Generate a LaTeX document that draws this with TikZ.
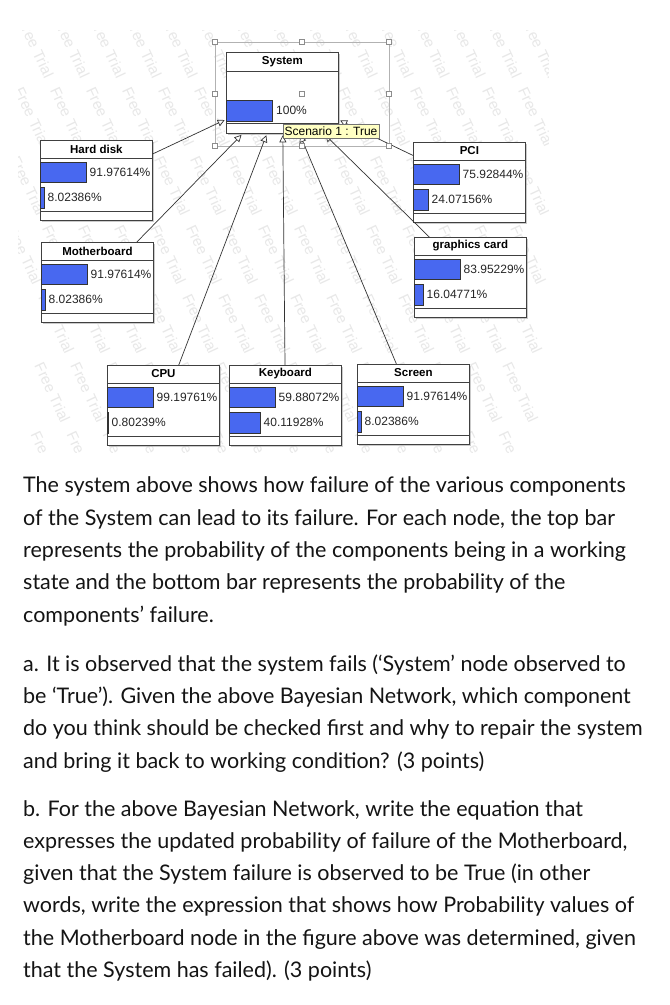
\documentclass[tikz,border=0pt]{standalone}
\usepackage{fontspec}
\setmainfont{Lato}
\newfontfamily\bnfont{Liberation Sans}
\usetikzlibrary{positioning,calc,arrows.meta,shadows}

\definecolor{barblue}{RGB}{72,104,240}
\definecolor{tipyellow}{RGB}{255,255,195}

\begin{document}
\begin{tikzpicture}[
    x=1pt, y=-1pt,
    bnbox/.style={rectangle, draw=black!75, fill=white, line width=0.8pt, minimum width=112pt, minimum height=80pt, inner sep=0pt, drop shadow={shadow xshift=1.2pt, shadow yshift=-1.2pt, fill=black!40}},
    bntitle/.style={inner sep=0pt, font=\bnfont\bfseries\fontsize{11.5}{12}\selectfont},
    pct/.style={anchor=west, inner sep=0pt, font=\bnfont\fontsize{12}{12}\selectfont, text=black!85},
    bar/.style={draw=black!80, fill=barblue, line width=0.7pt},
    sep/.style={draw=black!75, line width=0.7pt},
    arrow/.style={-{Triangle[open, length=7pt, width=7pt]}, draw=black!80, line width=0.7pt, shorten >=1.5pt},
    handle/.style={draw=black!45, fill=white, line width=0.5pt},
    wmark/.style={text=black!9, font=\bnfont\fontsize{15}{15}\selectfont, rotate=-65, inner sep=0pt},
    body/.style={anchor=base west, inner sep=0pt, align=left, font=\fontsize{21.5}{32.3}\selectfont, text=black!92}
]
\fill[white] (0,0) rectangle (670,1005);
\useasboundingbox (0,0) rectangle (670,1005);

% trial watermark behind the network
\begin{scope}
  \clip (18,30) rectangle (548,452);
  \foreach \c in {-6,...,15}
    \foreach \r in {0,...,6} {
      \pgfmathsetmacro\wx{\c*36+\r*32.1}
      \pgfmathsetmacro\wy{48+\r*68.9}
      \ifdim\wx pt>24pt \ifdim\wx pt<542pt
        \node[wmark] (wm\c-\r) at (\wx,\wy) {Free Trial};
      \fi\fi
    }
\end{scope}

% selection frame round the observed node
\draw[black!30, line width=0.5pt] (215,42) rectangle (389,146);

% observed node
\node[bnbox, minimum height=81pt, anchor=north west] (sys) at (226,52) {};
\node[bntitle] (sys-t) at ($(sys.north)+(0,9.5)$) {System};
\draw[sep] ($(sys.north west)+(0,19)$) -- ($(sys.north east)+(0,19)$);
\draw[sep] ($(sys.south west)+(0,-10)$) -- ($(sys.south east)+(0,-10)$);
\draw[bar] ($(sys.north west)+(0,48)$) rectangle ++(46,21);
\node[pct] (sys-p) at ($(sys.north west)+(50,58.5)$) {100\%};

% components: name/x/y/title/bar widths and values
\foreach \nm/\px/\py/\ttl/\wa/\pa/\wb/\pb in {
    hdd/40/140/Hard disk/46/91.97614/4/8.02386,
    mb/41/242/Motherboard/46/91.97614/4/8.02386,
    cpu/107/365/CPU/46/99.19761/1/0.80239,
    kb/229/365/Keyboard/46/59.88072/31/40.11928,
    scr/357/364/Screen/46/91.97614/4/8.02386,
    pci/413/142/PCI/46/75.92844/15/24.07156,
    gfx/414/237/graphics card/46/83.95229/9/16.04771}
{
  \node[bnbox, anchor=north west] (\nm) at (\px,\py) {};
  \node[bntitle] (\nm-t) at ($(\nm.north)+(0,9)$) {\ttl};
  \draw[sep] ($(\nm.north west)+(0,18)$) -- ($(\nm.north east)+(0,18)$);
  \draw[sep] ($(\nm.south west)+(0,-9)$) -- ($(\nm.south east)+(0,-9)$);
  \draw[bar] ($(\nm.north west)+(0,22)$) rectangle ++(\wa,20);
  \node[pct] (\nm-a) at ($(\nm.north west)+(\wa+3.5,32)$) {\pa\%};
  \draw[bar] ($(\nm.north west)+(0,47)$) rectangle ++(\wb,21);
  \node[pct] (\nm-b) at ($(\nm.north west)+(\wb+3.5,57.5)$) {\pb\%};
}

\draw[arrow] (hdd) -- (sys);
\draw[arrow] (mb) -- (sys);
\draw[arrow] (cpu) -- (sys);
\draw[arrow] (kb) -- (sys);
\draw[arrow] (scr) -- (sys);
\draw[arrow] (gfx) -- (sys);
\draw[arrow] (pci) -- (sys);

\foreach \hx in {215,302,389}
  \foreach \hy in {42,94,146}
    \draw[handle] (\hx-2.5,\hy-2.5) rectangle ++(5,5);

\node[draw=black!55, fill=tipyellow, inner sep=0pt, minimum width=96pt, minimum height=14pt, font=\bnfont\fontsize{12}{12}\selectfont] (scn) at (331,131) {Scenario 1 : True};

% question text (base = last line)
\node[body] (intro) at (23,622) {The system above shows how failure of the various components\\
of the System can lead to its failure. For each node, the top bar\\
represents the probability of the components being in a working\\
state and the bottom bar represents the probability of the\\
components’ failure.};
\node[body] (qa) at (23,768) {a. It is observed that the system fails (‘System’ node observed to\\
be ‘True’). Given the above Bayesian Network, which component\\
do you think should be checked first and why to repair the system\\
and bring it back to working condition? (3 points)};
\node[body] (qb) at (23,977.5) {b. For the above Bayesian Network, write the equation that\\
expresses the updated probability of failure of the Motherboard,\\
given that the System failure is observed to be True (in other\\
words, write the expression that shows how Probability values of\\
the Motherboard node in the figure above was determined, given\\
that the System has failed). (3 points)};
\end{tikzpicture}
\end{document}
